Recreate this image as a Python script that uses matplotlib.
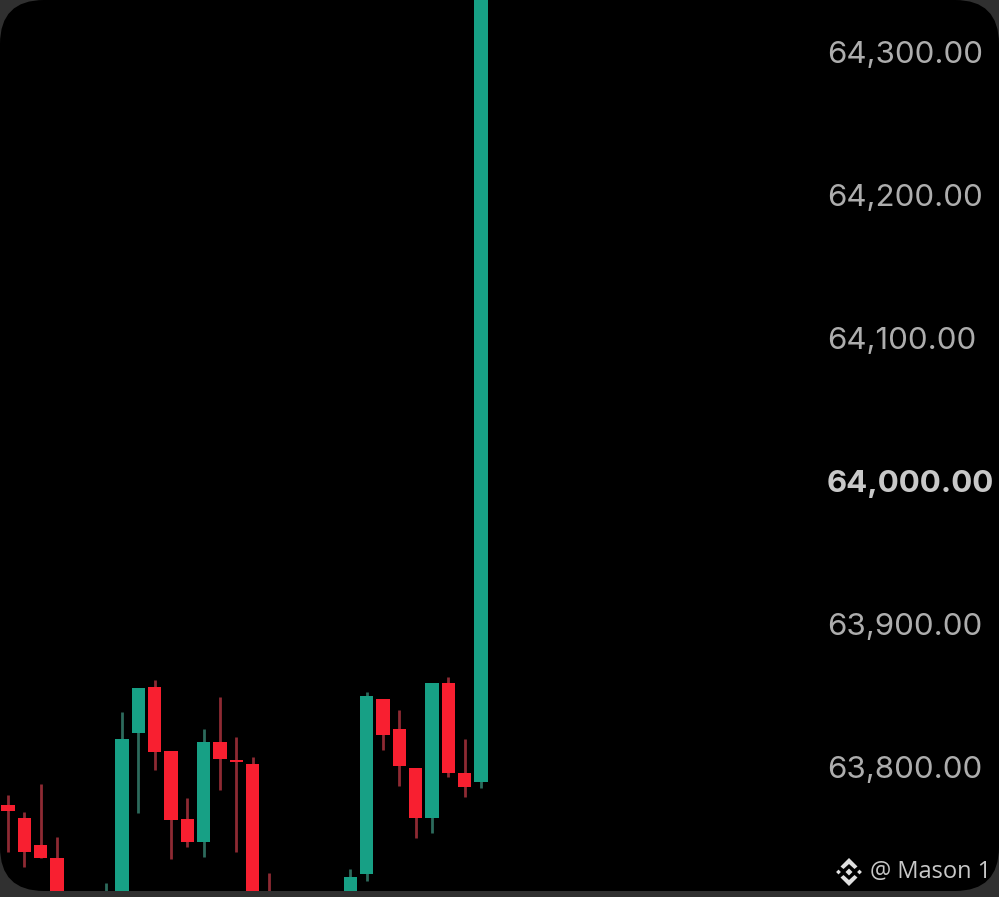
import matplotlib
matplotlib.use("Agg")
import matplotlib.pyplot as plt
from matplotlib.patches import FancyBboxPatch, Polygon

# Candle data (prices)
idx = [0, 1, 2, 3, 6, 7, 8, 9, 10, 11, 12, 13, 14, 15, 16, 21, 22, 23, 24, 25, 26, 27, 28, 29]
opens = [63773.4, 63764.3, 63745.5, 63736.4, 63700.0, 63707.0, 63823.8, 63855.9, 63811.2, 63763.6, 63747.6, 63817.5,
         63804.9, 63802.1, 63706.0, 63705.0, 63725.2, 63847.6, 63826.6, 63799.3, 63764.3, 63858.7, 63795.8, 63789.5]
closes = [63769.2, 63740.6, 63736.4, 63707.0, 63706.0, 63819.6, 63855.2, 63810.5, 63762.9, 63747.6, 63817.5, 63805.6,
          63803.5, 63707.0, 63700.0, 63723.1, 63849.7, 63822.4, 63800.7, 63764.3, 63858.7, 63795.8, 63786.0, 64350.0]
highs = [63780.4, 63768.5, 63788.1, 63751.0, 63718.9, 63838.5, 63855.2, 63860.8, 63811.2, 63778.3, 63826.6, 63849.0,
         63821.0, 63807.0, 63725.9, 63728.7, 63852.4, 63847.6, 63839.9, 63799.3, 63858.7, 63862.9, 63819.6, 64350.0]
lows = [63740.6, 63730.1, 63736.4, 63705.0, 63695.0, 63700.0, 63767.8, 63797.9, 63735.7, 63744.1, 63737.1, 63783.9,
        63740.6, 63700.0, 63695.0, 63700.0, 63720.3, 63811.9, 63786.7, 63750.3, 63753.8, 63793.0, 63779.0, 63785.3]
price_ticks = [63800, 63900, 64000, 64100, 64200, 64300]
price_labels = ["63,800.00", "63,900.00", "64,000.00", "64,100.00", "64,200.00", "64,300.00"]
watermark = "@ Mason 1"

W, H = 999, 897
UP = "#17a085"
DOWN = "#f81f30"
UP_WICK = "#2c6a5c"
DOWN_WICK = "#8e2a33"

fig = plt.figure(figsize=(W / 100, H / 100), dpi=100, facecolor="#303030")

# pixel overlay for the rounded screen
bg = fig.add_axes([0, 0, 1, 1], zorder=0)
bg.set_xlim(0, W)
bg.set_ylim(H, 0)
bg.axis("off")
bg.add_patch(FancyBboxPatch((0, 0), W, 891, boxstyle="round,pad=0,rounding_size=44", fc="black", ec="none"))

ax = fig.add_axes([0, 6 / H, 820 / W, 891 / H], zorder=1)
ax.patch.set_alpha(0)
ax.set_xlim(-0.49, 49.8)
ax.set_ylim(63713.3, 64336.4)
for s in ax.spines.values():
    s.set_visible(False)

for i, o, c, h, l in zip(idx, opens, closes, highs, lows):
    up = c >= o
    ax.vlines(i, l, h, color=UP_WICK if up else DOWN_WICK, lw=2.0, zorder=2)
    ax.bar(i, abs(c - o), bottom=min(o, c), width=0.82, color=UP if up else DOWN, zorder=3)

ax.set_xticks([])
ax.yaxis.tick_right()
ax.set_yticks(price_ticks)
ax.set_yticklabels(price_labels, fontfamily="Inter", fontsize=22.5, color="#adadad")
ax.tick_params(axis="y", length=0, pad=5)
for lab, val in zip(ax.get_yticklabels(), price_ticks):
    if val == 64000:
        lab.set_fontweight("bold")
        lab.set_color("#c8c8c8")

# watermark and logo
top = fig.add_axes([0, 0, 1, 1], zorder=2)
top.set_xlim(0, W)
top.set_ylim(H, 0)
top.axis("off")
top.patch.set_alpha(0)
top.text(870, 872, watermark, fontfamily="Open Sans", fontsize=17, color="#c8c8c8", va="center", ha="left")
cx, cy = 849, 872
logo = "#e0e0e0"
for dx, dy, r in [(0, 0, 3.5), (-10.5, 0, 2.4), (10.5, 0, 2.4)]:
    top.add_patch(Polygon([(cx + dx - r, cy + dy), (cx + dx, cy + dy - r), (cx + dx + r, cy + dy), (cx + dx, cy + dy + r)],
                          fc=logo, ec="none"))
for sgn in (-1, 1):
    top.add_patch(Polygon([(cx - 8.5, cy + sgn * 5.5), (cx, cy + sgn * 14), (cx + 8.5, cy + sgn * 5.5),
                           (cx + 5.5, cy + sgn * 3), (cx, cy + sgn * 8), (cx - 5.5, cy + sgn * 3)],
                          fc=logo, ec="none"))

fig.savefig("out.png", dpi=100, facecolor=fig.get_facecolor())
